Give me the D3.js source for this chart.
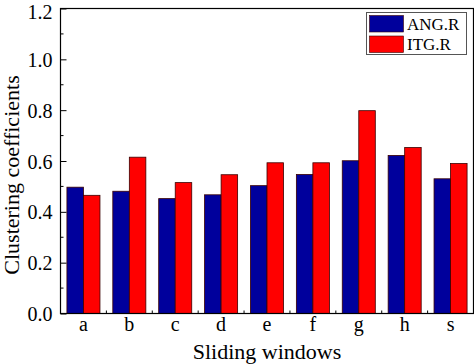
<!DOCTYPE html>
<html><head><meta charset="utf-8">
<script src="https://cdn.jsdelivr.net/npm/d3@7"></script>
<style>body{margin:0;background:#fff}svg{display:block}text{font-family:"Liberation Serif","Times New Roman",serif;fill:#000}</style>
</head><body>
<svg id="c" width="474" height="364"></svg>
<script>
const categories = ["a","b","c","d","e","f","g","h","s"];
const seriesNames = ["ANG.R","ITG.R"];
const angR = [0.497,0.481,0.452,0.467,0.503,0.547,0.601,0.622,0.530];
const itgR = [0.465,0.615,0.515,0.546,0.593,0.593,0.798,0.653,0.590];
const yTicks = [0,0.2,0.4,0.6,0.8,1.0,1.2];
const colors = ["#00009c","#ff0000"];

const svg = d3.select("#c");
const m = {l:60.5, r:473.5, t:8.5, b:313.5};
const x = d3.scaleBand().domain(categories).range([m.l, m.r]).paddingInner(0.28).paddingOuter(0.14);
const xs = d3.scaleBand().domain(seriesNames).range([0, x.bandwidth()]);
const y = d3.scaleLinear().domain([0,1.2]).range([m.b, m.t]);

const data = categories.map((c,i)=>({c, v:[angR[i], itgR[i]]}));
const g = svg.append("g");
g.selectAll("g.grp").data(data).join("g").attr("transform", d=>`translate(${x(d.c)},0)`)
  .selectAll("rect").data(d=>d.v.map((v,j)=>({v, s:seriesNames[j], j})))
  .join("rect")
  .attr("x", d=>xs(d.s)).attr("width", xs.bandwidth())
  .attr("y", d=>y(d.v)).attr("height", d=>y(0)-y(d.v))
  .attr("fill", d=>colors[d.j]).attr("stroke","#3a0000").attr("stroke-width",0.8);

// frame
svg.append("rect").attr("x",m.l).attr("y",m.t).attr("width",m.r-m.l).attr("height",m.b-m.t)
  .attr("fill","none").attr("stroke","#000").attr("stroke-width",1.2);

// y axis
const ya = d3.axisLeft(y).tickValues(yTicks).tickFormat(d3.format(".1f")).tickSize(-6).tickPadding(8);
const yg = svg.append("g").attr("transform",`translate(${m.l},0)`).call(ya);
yg.select(".domain").remove();
yg.selectAll("text").attr("font-size",20).attr("dy",d=>d>=1.2?"0.5em":"0.35em").attr("font-family",'"Liberation Serif",serif');
yg.selectAll("line").attr("stroke","#000");
const minor = d3.range(0.1,1.2,0.2);
svg.append("g").selectAll("line").data(minor).join("line")
  .attr("x1",m.l).attr("x2",m.l+3).attr("y1",d=>y(d)).attr("y2",d=>y(d)).attr("stroke","#000");

// x axis
const xa = d3.axisBottom(x).tickSize(0).tickPadding(3);
const xg = svg.append("g").attr("transform",`translate(0,${m.b})`).call(xa);
xg.select(".domain").remove();
xg.selectAll("text").attr("font-size",20).attr("font-family",'"Liberation Serif",serif');
const bounds = categories.slice(1).map(c=>x(c) - x.step()*x.paddingInner()/2);
svg.append("g").selectAll("line").data(bounds).join("line")
  .attr("x1",d=>d).attr("x2",d=>d).attr("y1",m.b).attr("y2",m.b-3).attr("stroke","#000");

// titles
svg.append("text").attr("x",(m.l+m.r)/2).attr("y",359).attr("text-anchor","middle").attr("font-size",22).text("Sliding windows");
svg.append("text").attr("transform",`translate(19,${(m.t+m.b)/2 + 14}) rotate(-90)`).attr("text-anchor","middle").attr("font-size",22).text("Clustering coefficients");

// legend
const lg = svg.append("g");
lg.append("rect").attr("x",366.5).attr("y",12.5).attr("width",100).attr("height",42).attr("fill","#fff").attr("stroke","#555").attr("stroke-width",1);
seriesNames.forEach((s,j)=>{
  lg.append("rect").attr("x",369.5).attr("y",15.5+j*20.5).attr("width",34).attr("height",16.5).attr("fill",colors[j]).attr("stroke","#3a0000").attr("stroke-width",0.6);
  lg.append("text").attr("x",407).attr("y",24+j*20.5).attr("dy","0.35em").attr("font-size",17).text(s);
});
</script>
</body></html>
